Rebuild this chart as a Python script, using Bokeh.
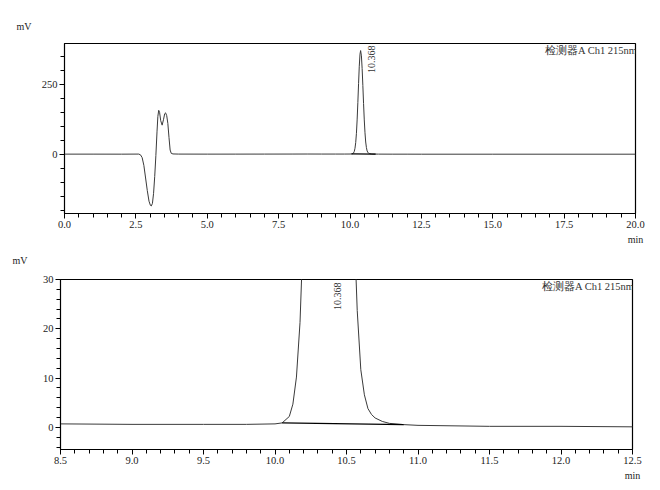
import math
from bokeh.plotting import figure
from bokeh.layouts import column, row
from bokeh.models import Label, Title, FixedTicker, PrintfTickFormatter, ColumnDataSource
from bokeh.embed import file_html
from bokeh.resources import INLINE

# ---- data ----
time_min = [0.0, 1.0, 2.0, 2.6, 2.66, 2.72, 2.78, 2.84, 2.9, 2.96, 3.01, 3.04, 3.08, 3.12,
            3.16, 3.2, 3.24, 3.27, 3.3, 3.33, 3.37, 3.42, 3.47, 3.51, 3.54, 3.58, 3.62,
            3.66, 3.7, 3.74, 3.8, 4.0, 5.0, 6.0, 7.0, 8.0, 8.5, 9.0, 9.5, 9.8, 10.0,
            10.05, 10.1, 10.125, 10.15, 10.175, 10.2, 10.225, 10.25, 10.275, 10.3, 10.325,
            10.35, 10.372, 10.4, 10.425, 10.45, 10.475, 10.5, 10.525, 10.55, 10.575, 10.6,
            10.625, 10.65, 10.675, 10.7, 10.75, 10.8, 10.9, 11.0, 11.5, 12.0, 12.5, 15.0, 20.0]
signal_mv = [0.3, 0.3, 0.2, 0.5, -2, -12, -40, -85, -130, -168, -183, -185, -176, -140,
             -80, -5, 80, 135, 157, 150, 120, 104, 125, 145, 148, 138, 110,
             60, 15, 3, 1, 0.5, 0.3, 0.4, 0.5, 0.6, 0.7, 0.6, 0.6, 0.6, 0.7,
             0.9, 2.2, 4.7, 10.2, 21.3, 41.7, 74.7, 122.7, 184.7, 252.7, 314.7,
             357.7, 370.7, 351.7, 306.7, 245.7, 181.7, 122.7, 76.7, 43.7, 23.7, 11.7,
             6.6, 3.8, 2.6, 1.9, 1.2, 0.8, 0.55, 0.4, 0.2, 0.2, 0.1, 0.1, 0.1]

# integration baseline of the peak (start / end)
baseline_t = [10.05, 10.9]
baseline_v = [0.9, 0.55]

peak_rt = 10.368
peak_label = "10.368"
detector = "检测器A Ch1 215nm"
y_unit = "mV"
x_unit = "min"

top_x_ticks = [0.0, 2.5, 5.0, 7.5, 10.0, 12.5, 15.0, 17.5, 20.0]
top_x_minor = [i * 0.5 for i in range(41)]
top_y_ticks = [0, 250]
top_y_minor = [-200, -150, -100, -50, 50, 100, 150, 200, 300, 350]

bot_x_ticks = [8.5, 9.0, 9.5, 10.0, 10.5, 11.0, 11.5, 12.0, 12.5]
bot_x_minor = [round(8.5 + i * 0.1, 1) for i in range(41)]
bot_y_ticks = [0, 10, 20, 30]
bot_y_minor = [-4, -2, 2, 4, 6, 8, 12, 14, 16, 18, 22, 24, 26, 28]

FONT = "Liberation Serif"
TRACE = "#3a3a3a"

src = ColumnDataSource(dict(t=time_min, v=signal_mv))
bsrc = ColumnDataSource(dict(t=baseline_t, v=baseline_v))


def unit_title(off, standoff):
    return Title(text=y_unit, align="left", offset=off, standoff=standoff,
                 text_font=FONT, text_font_size="10px", text_font_style="normal",
                 text_color="#222222")


def make_fig(xr, yr, h, bl, br, bt, bb, xt, xm, yt, ym, lab_dx, lab_dy):
    p = figure(width=652, height=h, x_range=xr, y_range=yr,
               output_backend="svg", toolbar_location=None,
               min_border_left=bl, min_border_right=br,
               min_border_top=bt, min_border_bottom=bb)
    p.grid.visible = False
    p.outline_line_color = "black"
    p.outline_line_width = 1.2
    p.background_fill_color = "white"
    p.border_fill_color = "white"
    p.xaxis.ticker = FixedTicker(ticks=xt, minor_ticks=xm)
    p.yaxis.ticker = FixedTicker(ticks=yt, minor_ticks=ym)
    p.xaxis.formatter = PrintfTickFormatter(format="%.1f")
    p.yaxis.formatter = PrintfTickFormatter(format="%d")
    for ax in (p.xaxis, p.yaxis):
        ax.axis_line_color = "black"
        ax.major_tick_line_color = "black"
        ax.minor_tick_line_color = "black"
        ax.major_tick_in = 0
        ax.minor_tick_in = 0
        ax.major_tick_out = 5
        ax.minor_tick_out = 4
        ax.major_label_text_font = FONT
        ax.major_label_text_font_size = "10.5px"
        ax.major_label_text_color = "#222222"
        ax.major_label_standoff = 2

    p.xaxis.axis_label = x_unit
    p.xaxis.axis_label_align = "end"
    p.xaxis.axis_label_standoff = 3
    p.xaxis.axis_label_text_font = FONT
    p.xaxis.axis_label_text_font_style = "normal"
    p.xaxis.axis_label_text_font_size = "10px"
    p.xaxis.axis_label_text_color = "#222222"

    p.line("t", "v", source=src, line_color=TRACE, line_width=1)
    p.line("t", "v", source=bsrc, line_color="black", line_width=1.3)

    p.add_layout(Label(x=peak_rt, y=yr[1], text=peak_label, angle=math.pi / 2,
                       x_offset=lab_dx, y_offset=lab_dy,
                       text_align="right", text_baseline="top",
                       text_font=FONT, text_font_size="10px", text_color="#333333"))
    p.add_layout(Label(x=xr[1], y=yr[1], text=detector, x_offset=2, y_offset=-1,
                       text_align="right", text_baseline="top",
                       text_font=FONT, text_font_size="10.5px", text_color="#333333"))
    return p


p1 = make_fig((0, 20), (-212, 396), 274, 64, 17, 43, 61,
              top_x_ticks, top_x_minor, top_y_ticks, top_y_minor, 7, -2)
p1.add_layout(unit_title(-48, 23), "above")
# unit label of the lower chart sits in the gap between the two charts
p1.add_layout(unit_title(-52, 10), "below")

p2 = make_fig((8.5, 12.5), (-4.5, 30), 216, 60, 20, 5, 41,
              bot_x_ticks, bot_x_minor, bot_y_ticks, bot_y_minor, 6, -3)

layout = column(row(p1), row(p2), spacing=0)
open("out.html", "w").write(file_html(layout, INLINE))
